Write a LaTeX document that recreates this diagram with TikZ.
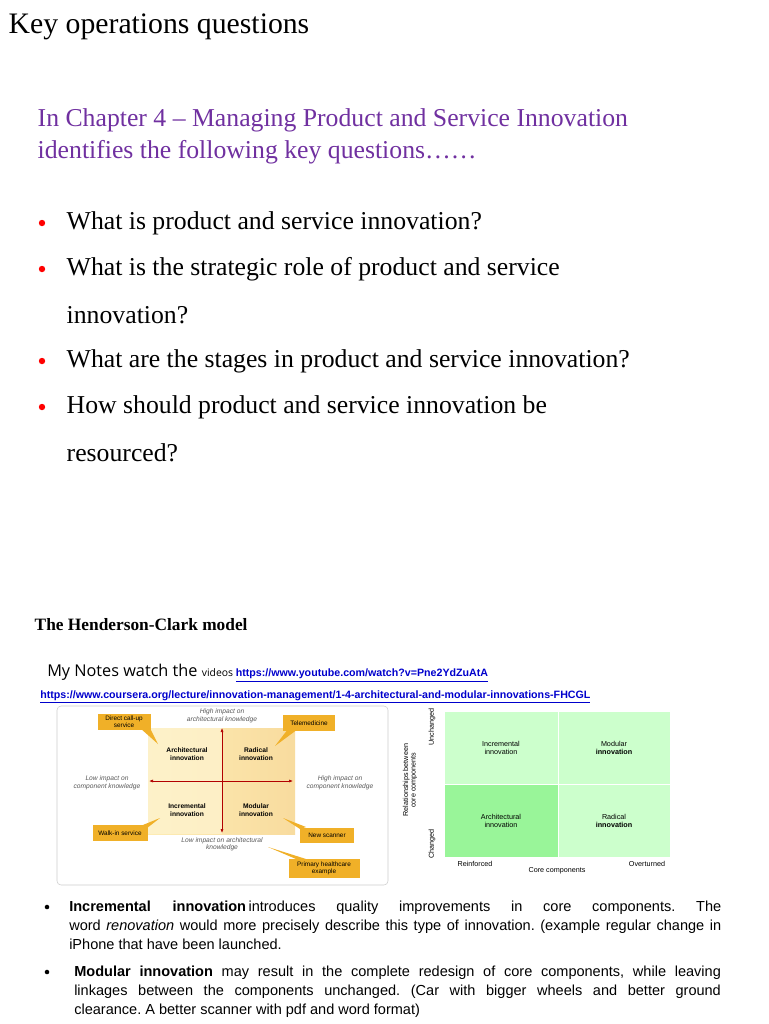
\documentclass[tikz,border=0pt]{standalone}
\usepackage{fontspec}
\setmainfont{Liberation Serif}
\setsansfont{Liberation Sans}
\newfontfamily\opensans{Open Sans}
\usetikzlibrary{arrows.meta}
\frenchspacing
\definecolor{purp}{RGB}{112,48,160}
\definecolor{lnk}{RGB}{0,0,204}
\definecolor{orng}{RGB}{240,176,40}
\definecolor{ylw}{RGB}{253,236,180}
\definecolor{gA}{RGB}{204,255,204}
\definecolor{gB}{RGB}{153,245,153}
\tikzset{
 bul/.style={anchor=west,font=\fontsize{19.3}{22}\selectfont},
 dot/.style={circle,fill=red,inner sep=1.7pt},
 ital/.style={font=\sffamily\itshape\fontsize{5}{5.6}\selectfont,text=black!65,align=center},
 quad/.style={font=\sffamily\bfseries\fontsize{5}{5.6}\selectfont,align=center},
 obox/.style={fill=orng,font=\sffamily\fontsize{4.8}{5.4}\selectfont,align=center,inner sep=1.5pt},
 glab/.style={font=\sffamily\fontsize{5.4}{5.8}\selectfont,align=center},
 ax/.style={draw=red!70!black,line width=0.5pt,{Latex[length=3pt]}-{Latex[length=3pt]}}
}
\begin{document}
\begin{tikzpicture}[x=0.75pt,y=-0.75pt]
\useasboundingbox (0,0) rectangle (768,1024);
\node[anchor=west,font=\fontsize{22.3}{24}\selectfont] (title) at (4,27) {Key operations questions};
\node[anchor=north west,align=left,text=purp,font=\fontsize{19.3}{24}\selectfont] (intro) at (33,104) {In Chapter 4 -- Managing Product and Service Innovation\\identifies the following key questions\dots\dots};
\foreach \y/\t/\n in {223/What is product and service innovation?/q1,269/What is the strategic role of product and service/q2,361/What are the stages in product and service innovation?/q4,407/How should product and service innovation be/q5}{
 \node[dot] (d\n) at (42,\y) {};
 \node[bul] (\n) at (62,\y) {\t};}
\node[bul] (q3) at (62,315) {innovation?};
\node[bul] (q6) at (62,453) {resourced?};
\node[anchor=west,font=\bfseries\fontsize{13}{14}\selectfont] (hc) at (30,625) {The Henderson-Clark model};
\node[anchor=west,inner sep=0pt] (notes) at (47,673) {{\opensans\fontsize{12.2}{13}\selectfont My Notes watch the }{\opensans\fontsize{7.8}{9}\selectfont videos }{\sffamily\bfseries\fontsize{8}{9}\selectfont\color{lnk}\underline{https://www.youtube.com/watch?v=Pne2YdZuAtA}}};
\node[anchor=west,inner sep=0pt,font=\sffamily\bfseries\fontsize{8}{9}\selectfont,text=lnk] (link2) at (40,697) {\underline{https://www.coursera.org/lecture/innovation-management/1-4-architectural-and-modular-innovations-FHCGL}};
% left figure
\draw[black!20,rounded corners=3pt,fill=white] (57,706) rectangle (388,885);
\shade[left color=ylw,right color=orng!45] (148,728) rectangle (295,834);
\fill[ylw!60,opacity=0.7] (148,728) rectangle (222,834);
\coordinate (vt) at (222,728); \coordinate (vb) at (222,833);
\coordinate (hl) at (149,781); \coordinate (hr) at (293,781);
\draw[ax] (vb) -- (vt); \draw[ax] (hl) -- (hr);
\node[ital] (hia) at (222,716) {High impact on\\architectural knowledge};
\node[ital] (lic) at (107,783) {Low impact on\\component knowledge};
\node[ital] (hic) at (340,783) {High impact on\\component knowledge};
\node[ital] (lia) at (222,844) {Low impact on architectural\\knowledge};
\node[quad] (arch) at (187,754) {Architectural\\innovation};
\node[quad] (rad) at (256,754) {Radical\\innovation};
\node[quad] (inc) at (187,810) {Incremental\\innovation};
\node[quad] (mod) at (256,810) {Modular\\innovation};
\fill[orng] (140,728) -- (150,728) -- (158,744) -- cycle;
\fill[orng] (288,729) -- (298,729) -- (275,746) -- cycle;
\fill[orng] (138,827) -- (138,835) -- (160,818) -- cycle;
\fill[orng] (300,829) -- (306,827) -- (283,818) -- cycle;
\fill[orng] (296,859) -- (306,859) -- (268,847) -- cycle;
\node[obox,minimum width=53pt*0.75,minimum height=16pt*0.75] (dcs) at (124,722) {Direct call-up\\service};
\node[obox,minimum width=52pt*0.75,minimum height=16pt*0.75] (tel) at (309,723) {Telemedicine};
\node[obox,minimum width=55pt*0.75,minimum height=16pt*0.75] (wis) at (120,833) {Walk-in service};
\node[obox,minimum width=54pt*0.75,minimum height=15pt*0.75] (ns) at (327,835) {New scanner};
\node[obox,minimum width=71pt*0.75,minimum height=19pt*0.75] (phe) at (324,868) {Primary healthcare\\example};
% right figure
\fill[gA] (445,712) rectangle (670,857);
\fill[gB] (445,784) rectangle (558,857);
\draw[white,line width=0.6pt] (558,712) -- (558,857) (445,784) -- (670,784);
\node[glab] (ri) at (501,748) {Incremental\\innovation};
\node[glab] (rm) at (614,748) {Modular\\\textbf{innovation}};
\node[glab] (ra) at (501,821) {Architectural\\innovation};
\node[glab] (rr) at (614,821) {Radical\\\textbf{innovation}};
\node[glab,rotate=90] (unch) at (432,727) {Unchanged};
\node[glab,rotate=90] (chg) at (432,844) {Changed};
\node[glab,rotate=90] (rel) at (410,780) {Relationships between\\core components};
\node[glab] (reinf) at (475,864) {Reinforced};
\node[glab] (over) at (647,864) {Overturned};
\node[glab] (corec) at (557,871) {Core components};
% bottom text
\node[dot,fill=black,inner sep=1.2pt] (b1) at (47,907) {};
\node[anchor=north west,inner sep=0pt,font=\sffamily\fontsize{10.9}{14}\selectfont,text width=489pt,align=justify] (t1) at (69,901) {\textbf{Incremental\hspace{1.5em}innovation}\,introduces quality improvements in core components. The\linebreak word \textit{renovation} would more precisely describe this type of innovation. (example regular change in\linebreak iPhone that have been launched.};
\node[dot,fill=black,inner sep=1.2pt] (b2) at (47,972) {};
\node[anchor=north west,inner sep=0pt,font=\sffamily\fontsize{10.9}{14.3}\selectfont,text width=485pt,align=justify] (t2) at (74,966) {\textbf{Modular innovation} may result in the complete redesign of core components, while leaving\linebreak linkages between the components unchanged. (Car with bigger wheels and better ground\linebreak clearance. A better scanner with pdf and word format)};
\end{tikzpicture}
\end{document}
